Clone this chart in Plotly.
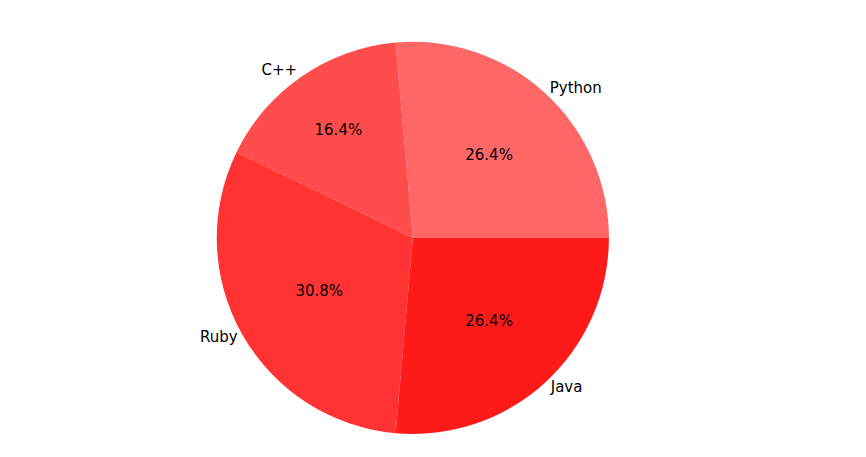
import plotly.graph_objects as go

labels = ["Python", "C++", "Ruby", "Java"]
values = [66, 41, 77, 66]
colors = ["#ff6666", "#ff4c4c", "#ff3333", "#ff1a1a"]

dom = dict(x=[0.241, 0.694], y=[0.068, 0.926])
common = dict(labels=labels, values=values, sort=False, direction="counterclockwise",
              rotation=-5.04, domain=dom, hoverinfo="skip")

fig = go.Figure()
fig.add_trace(go.Pie(**common, marker=dict(colors=colors, line=dict(width=0)),
                     textinfo="percent", texttemplate="%{percent:.1%}",
                     textposition="inside", insidetextorientation="horizontal",
                     textfont=dict(family="DejaVu Sans", size=15, color="black"),
                     showlegend=False))
fig.add_trace(go.Pie(**common, marker=dict(colors=["rgba(0,0,0,0)"] * 4, line=dict(width=0)),
                     texttemplate="%{label}", textposition="outside",
                     textfont=dict(family="DejaVu Sans", size=15, color="black"),
                     showlegend=False))
fig.update_layout(width=866, height=457, margin=dict(l=0, r=0, t=0, b=0),
                  paper_bgcolor="white", plot_bgcolor="white")
fig.write_html("out.html")
